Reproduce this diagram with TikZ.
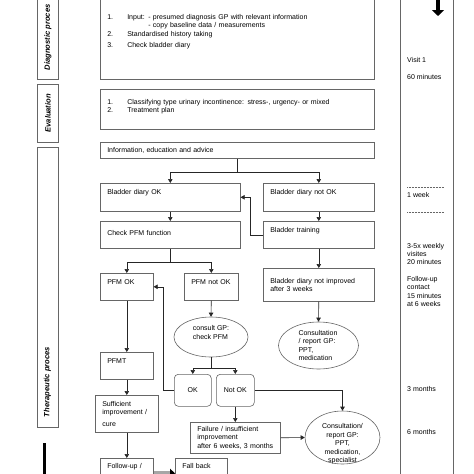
\documentclass[tikz,border=0pt]{standalone}
\usepackage{fontspec}
\usepackage{graphicx}
\setmainfont{Liberation Sans}
\usetikzlibrary{arrows.meta,shapes.geometric}

\begin{document}
\begin{tikzpicture}[x=1pt, y=-1pt, >={Triangle[length=4pt,width=4.5pt]},
    box/.style = {draw=black!60, line width=0.6pt, anchor=north west, align=left, inner xsep=7pt, inner ysep=2pt, text width=#1, font=\fontsize{7}{8}\selectfont},
    rbox/.style = {draw=black!60, line width=0.6pt, rounded corners=4pt, anchor=north west, inner sep=1pt, font=\fontsize{7}{8}\selectfont},
    oval/.style = {draw=black!60, line width=0.6pt, ellipse, inner sep=0pt, font=\fontsize{7}{8.3}\selectfont},
    side/.style = {draw=black!60, line width=0.6pt, anchor=north west, inner sep=0pt, minimum width=21pt, font=\fontsize{7.6}{9}\selectfont\bfseries\itshape},
    note/.style = {anchor=west, inner sep=0pt, align=left, font=\fontsize{7}{8}\selectfont},
    flow/.style = {draw=black!85, line width=0.6pt}]

\clip (0,0) rectangle (474,474);

% phases on the left
\node[side, minimum height=84pt] (diagS) at (37,-5) {\rotatebox{90}{Diagnostic proces}};
\node[side, minimum height=58pt] (evalS) at (37,84) {\rotatebox{90}{Evaluation}};
\node[side, minimum height=280pt] (theraS) at (37,147) {};
\node[inner sep=0pt, rotate=90, font=\fontsize{7.6}{9}\selectfont\bfseries\itshape] (theraT) at (47.5,382) {Therapeutic proces};
\draw[line width=3pt] (44.5,443) -- (44.5,480);

% time column on the right
\draw[draw=black!60, line width=0.6pt] (400,-5) -- (400,480);
\draw[draw=black!60, line width=0.6pt] (453,-5) -- (453,480);
\draw[line width=4pt, -{Triangle[length=6pt,width=12pt]}] (438,-3) -- (438,16);
\node[note] (visit) at (407,60) {Visit 1};
\node[note] (visitT) at (407,77) {60 minutes};
\draw[black!60, line width=0.4pt, dash pattern=on 1pt off 0.5pt] (407,187) -- (444,187);
\node[note] (week) at (407,195) {1 week};
\draw[black!60, line width=0.4pt, dash pattern=on 1pt off 0.5pt] (407,212) -- (444,212);
\node[note, anchor=north west] (visits) at (407,242.8) {3-5x weekly\\visites\\20 minutes};
\node[note, anchor=north west, font=\fontsize{7}{8.6}\selectfont] (contact) at (407,275.8) {Follow-up\\contact\\15 minutes\\at 6 weeks};
\node[note] (three) at (407,389) {3 months};
\node[note] (six) at (407,432) {6 months};

% diagnostic and evaluation
\node[box=260pt, minimum height=96pt] (diag) at (100,-17) {\makebox[20pt][l]{1.}Input: - presumed diagnosis GP with relevant information\\
    \hspace*{20pt}\phantom{Input: }- copy baseline data / measurements\\[1pt]
    \makebox[20pt][l]{2.}Standardised history taking\\[3pt]
    \makebox[20pt][l]{3.}Check bladder diary};
\node[box=260pt, minimum height=40pt, text depth=15pt] (eval) at (100,89) {\makebox[20pt][l]{1.}Classifying type urinary incontinence: stress-, urgency- or mixed\\
    \makebox[20pt][l]{2.}Treatment plan};
\node[box=260pt, minimum height=16pt] (info) at (100,142) {Information, education and advice};

% therapy
\node[box=126pt, minimum height=28pt, text depth=10pt] (bdok) at (100,183) {Bladder diary OK};
\node[box=97pt, minimum height=28pt, text depth=10pt] (bdnok) at (263,183) {Bladder diary not OK};
\node[box=126pt, minimum height=27pt, text depth=4pt] (check) at (100,221) {Check PFM function};
\node[box=97pt, minimum height=27pt, text depth=10pt] (btrain) at (263,221) {Bladder training};
\node[box=97pt, minimum height=33pt, text depth=8pt] (bdni) at (263,268) {Bladder diary not improved\\after 3 weeks};
\node[oval, minimum width=80pt, minimum height=47pt, text width=40pt, align=left] (cons1) at (318.5,345.5) {Consultation\\/ report GP:\\PPT,\\medication};
\node[box=39pt, minimum height=27pt, text depth=10pt] (pfmok) at (100,273) {PFM OK};
\node[box=40pt, minimum height=27pt, text depth=10pt] (pfmnok) at (184,273) {PFM not OK};
\node[oval, minimum width=74pt, minimum height=40pt, align=left, text depth=9pt] (gp) at (211,337) {consult GP:\\check PFM};
\node[rbox, minimum width=37pt, minimum height=32pt] (ok) at (174,374) {OK};
\node[rbox, minimum width=38pt, minimum height=32pt] (nok) at (216,374) {Not OK};
\node[box=76pt, minimum height=31pt, font=\fontsize{7}{8.5}\selectfont] (fail) at (190,422) {Failure / insufficient\\improvement\\after 6 weeks, 3 months};
\node[oval, minimum width=75pt, minimum height=53pt] (cons2) at (342.5,437.5) {};
\node[inner sep=0pt, align=center, font=\fontsize{7}{8.5}\selectfont] (cons2T) at (342.5,444) {Consultation/\\report GP:\\PPT,\\medication,\\specialist};
\node[box=39pt, minimum height=27pt, text depth=10pt] (pfmt) at (100,352) {PFMT};
\node[box=49pt, minimum height=37pt] (suff) at (95,395) {Sufficient\\improvement /\\[4pt]cure};
\node[box=39pt, minimum height=30pt, text depth=15pt] (fu) at (100,458) {Follow-up /};
\node[box=38pt, minimum height=30pt, text depth=15pt] (fb) at (175,458) {Fall back};

% connectors
\draw[flow] (info.south) -- ++(0,14) coordinate (infosplit);
\draw[flow,->] (infosplit) -| (bdok.north);
\draw[flow,->] (infosplit) -| (bdnok.north);
\draw[flow,->] (bdok) -- (check);
\draw[flow,->] (bdnok) -- (btrain);
\draw[flow,->] (btrain.west) -- ++(-13,0) |- (bdok.east);
\draw[flow,->] (btrain) -- (bdni);
\draw[flow,->] (bdni.south) -- (cons1.north);
\draw[flow] (check.south) -- ++(0,14) coordinate (checksplit);
\draw[flow,->] (checksplit) -| (pfmok.north);
\draw[flow,->] (checksplit) -| (pfmnok.north);
\draw[flow,->] (pfmnok.south) -- (gp.north);
\draw[flow] (gp.south) -- ++(0,11) coordinate (gpsplit);
\draw[flow,->] (gpsplit) -| (ok.north);
\draw[flow,->] (gpsplit) -| (nok.north);
\draw[flow,->] (ok.west) -- ++(-11,0) |- (pfmok.east);
\draw[flow,->] (nok.east) -| (cons2.north);
\draw[flow,->] (nok) -- (fail);
\draw[flow,->] (fail.east) -- (cons2.west);
\draw[flow,->] (pfmok) -- (pfmt);
\draw[flow,->] (pfmt) -- (suff);
\draw[flow,->] (suff) -- (fu);
\draw[line width=5pt, black!35, -{Triangle[black,length=5pt,width=9pt]}] (fu) -- (fb);
\end{tikzpicture}
\end{document}
